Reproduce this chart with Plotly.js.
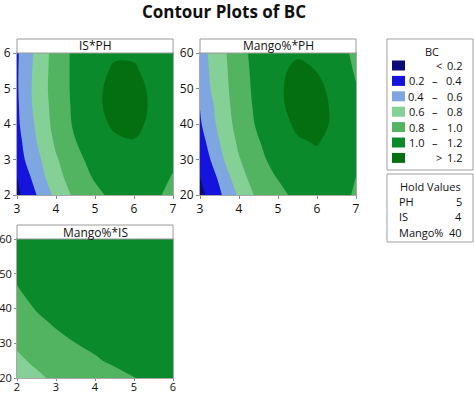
<!DOCTYPE html>
<html><head><meta charset="utf-8">
<script src="https://cdn.plot.ly/plotly-3.0.1.min.js"></script>
<style>html,body{margin:0;padding:0;background:#fff;} #chart{width:474px;height:395px;}</style>
</head><body><div id="chart"></div>
<script>
// ---- data ----
const phVals = [3, 3.5, 4, 4.5, 5, 5.5, 6, 6.5, 7];
const isVals = [2, 2.5, 3, 3.5, 4, 4.5, 5, 5.5, 6];
const mangoVals = [20, 25, 30, 35, 40, 45, 50, 55, 60];

// BC over IS (rows) x PH (cols)
const bcIsPh = [
  [0.15, 0.40, 0.656, 0.845, 0.951, 1.05, 1.05, 1.04, 0.945],
  [0.198, 0.485, 0.735, 0.898, 1.02, 1.08, 1.10, 1.05, 0.992],
  [0.305, 0.543, 0.781, 0.935, 1.083, 1.14, 1.15, 1.10, 1.02],
  [0.33, 0.598, 0.833, 0.995, 1.11, 1.17, 1.19, 1.15, 1.05],
  [0.362, 0.632, 0.872, 1.032, 1.14, 1.228, 1.254, 1.15, 1.05],
  [0.37, 0.665, 0.876, 1.044, 1.16, 1.26, 1.26, 1.174, 1.06],
  [0.38, 0.675, 0.89, 1.047, 1.16, 1.255, 1.255, 1.166, 1.06],
  [0.38, 0.66, 0.89, 1.047, 1.15, 1.221, 1.218, 1.15, 1.05],
  [0.375, 0.645, 0.887, 1.048, 1.13, 1.18, 1.18, 1.13, 1.04]
];
// BC over Mango% (rows) x PH (cols)
const bcMangoPh = [
  [0.14, 0.368, 0.63, 0.854, 0.941, 1.054, 1.07, 1.04, 0.987],
  [0.199, 0.433, 0.731, 0.9035, 1.011, 1.09, 1.11, 1.07, 0.998],
  [0.235, 0.545, 0.788, 0.94, 1.09, 1.15, 1.17, 1.14, 1.03],
  [0.314, 0.598, 0.838, 0.99, 1.10, 1.185, 1.21, 1.15, 1.06],
  [0.376, 0.653, 0.876, 1.031, 1.14, 1.228, 1.25, 1.167, 1.05],
  [0.405, 0.681, 0.893, 1.05, 1.17, 1.253, 1.25, 1.167, 1.04],
  [0.485, 0.698, 0.9125, 1.058, 1.17, 1.27, 1.25, 1.13, 1.01],
  [0.504, 0.713, 0.92, 1.068, 1.15, 1.254, 1.195, 1.10, 0.982],
  [0.517, 0.725, 0.933, 1.079, 1.14, 1.17, 1.15, 1.07, 0.962]
];
// BC over Mango% (rows) x IS (cols)
const bcMangoIs = [
  [0.716, 0.77, 0.83, 0.87, 0.90, 0.94, 0.998, 1.02, 1.03],
  [0.77, 0.83, 0.89, 0.94, 0.98, 1.03, 1.05, 1.06, 1.06],
  [0.823, 0.891, 0.95, 0.999, 1.04, 1.07, 1.09, 1.09, 1.08],
  [0.877, 0.952, 1.01, 1.05, 1.08, 1.10, 1.11, 1.11, 1.10],
  [0.93, 1.01, 1.06, 1.09, 1.11, 1.12, 1.13, 1.12, 1.11],
  [0.984, 1.06, 1.10, 1.12, 1.135, 1.14, 1.14, 1.13, 1.12],
  [1.03, 1.09, 1.12, 1.14, 1.15, 1.15, 1.15, 1.14, 1.12],
  [1.06, 1.11, 1.14, 1.15, 1.16, 1.16, 1.15, 1.14, 1.12],
  [1.08, 1.12, 1.15, 1.16, 1.16, 1.16, 1.15, 1.14, 1.12]
];

const levelColors = ['#0b0b78', '#1414dc', '#7ea6e0', '#84d096', '#52b460', '#0b8a2b', '#046f10'];
const legendLow = ['', '0.2', '0.4', '0.6', '0.8', '1.0', ''];
const legendMid = ['<', '–', '–', '–', '–', '–', '>'];
const legendHigh = ['0.2', '0.4', '0.6', '0.8', '1.0', '1.2', '1.2'];
const holdNames = ['PH', 'IS', 'Mango%'];
const holdValues = ['5', '4', '40'];
const panelTitles = ['IS*PH', 'Mango%*PH', 'Mango%*IS'];
const phTicks = [3, 4, 5, 6, 7];
const isTicks = [2, 3, 4, 5, 6];
const mangoTicks = [20, 30, 40, 50, 60];

// ---- layout helpers ----
const W = 474, H = 395;
const FONT = 'Open Sans, Noto Sans, sans-serif';
const fx = p => p / W;
const fy = p => 1 - p / H;

const colorscale = levelColors.map((c, i) => [i / (levelColors.length - 1), c]);
function contourTrace(x, y, z, xa, ya) {
  return {
    type: 'contour', x: x, y: y, z: z, xaxis: xa, yaxis: ya,
    autocontour: false,
    contours: {start: 0.2, end: 1.21, size: 0.2, coloring: 'fill', showlines: false},
    line: {width: 0, smoothing: 1.0},
    colorscale: colorscale, showscale: false, hoverinfo: 'skip'
  };
}
const data = [
  contourTrace(phVals, isVals, bcIsPh, 'x', 'y'),
  contourTrace(phVals, mangoVals, bcMangoPh, 'x2', 'y2'),
  contourTrace(isVals, mangoVals, bcMangoIs, 'x3', 'y3')
];

const panels = [
  {x0: 17, x1: 173, y0: 53, y1: 195},
  {x0: 200, x1: 356, y0: 53, y1: 195},
  {x0: 17, x1: 173, y0: 239, y1: 378}
];
function axis(p, horiz, range, ticks, anchor, fs, tl) {
  return {
    domain: horiz ? [fx(p.x0), fx(p.x1)] : [fy(p.y1), fy(p.y0)],
    range: range, tickvals: ticks, ticks: 'outside', ticklen: tl || 3, tickcolor: '#888',
    showgrid: false, zeroline: false, showline: true, mirror: true,
    linecolor: '#a8a8a8', linewidth: 1, anchor: anchor, fixedrange: true,
    tickfont: {family: FONT, size: fs || 12, color: '#111'}
  };
}

const shapes = [], annotations = [];
const LF = {family: FONT, size: 11, color: '#111'};
panels.forEach((p, i) => {
  shapes.push({type: 'rect', xref: 'paper', yref: 'paper', x0: fx(p.x0), x1: fx(p.x1),
    y0: fy(p.y0), y1: fy(p.y0 - 14), fillcolor: '#fff', line: {color: '#9a9a9a', width: 1}});
  annotations.push({xref: 'paper', yref: 'paper', x: fx((p.x0 + p.x1) / 2), y: fy(p.y0 - 7),
    text: panelTitles[i], showarrow: false, xanchor: 'center', yanchor: 'middle',
    font: {family: FONT, size: 12, color: '#111'}});
});

// legend box
shapes.push({type: 'rect', xref: 'paper', yref: 'paper', x0: fx(387), x1: fx(473), y0: fy(170), y1: fy(39),
  fillcolor: '#fff', line: {color: '#a0a0a0', width: 1}});
annotations.push({xref: 'paper', yref: 'paper', x: fx(432), y: fy(51), text: 'BC', showarrow: false,
  xanchor: 'center', yanchor: 'middle', font: LF});
levelColors.forEach((c, i) => {
  const cy = 65.5 + 15.4 * i;
  shapes.push({type: 'rect', xref: 'paper', yref: 'paper', x0: fx(392), x1: fx(405), y0: fy(cy + 5), y1: fy(cy - 5),
    fillcolor: c, line: {width: 0}});
  if (legendLow[i]) annotations.push({xref: 'paper', yref: 'paper', x: fx(426), y: fy(cy), text: legendLow[i],
    showarrow: false, xanchor: 'right', yanchor: 'middle', font: LF});
  annotations.push({xref: 'paper', yref: 'paper', x: fx(legendLow[i] ? 435 : 439), y: fy(cy), text: legendMid[i],
    showarrow: false, xanchor: 'center', yanchor: 'middle', font: LF});
  annotations.push({xref: 'paper', yref: 'paper', x: fx(464), y: fy(cy), text: legendHigh[i],
    showarrow: false, xanchor: 'right', yanchor: 'middle', font: LF});
});

// hold values box
shapes.push({type: 'rect', xref: 'paper', yref: 'paper', x0: fx(387), x1: fx(473), y0: fy(242), y1: fy(174),
  fillcolor: '#fff', line: {color: '#a0a0a0', width: 1}});
annotations.push({xref: 'paper', yref: 'paper', x: fx(430), y: fy(186), text: 'Hold Values', showarrow: false,
  xanchor: 'center', yanchor: 'middle', font: LF});
holdNames.forEach((n, i) => {
  const cy = 201 + 15.5 * i;
  annotations.push({xref: 'paper', yref: 'paper', x: fx(397), y: fy(cy), text: n, showarrow: false,
    xanchor: 'left', yanchor: 'middle', font: LF});
  annotations.push({xref: 'paper', yref: 'paper', x: fx(464), y: fy(cy), text: holdValues[i], showarrow: false,
    xanchor: 'right', yanchor: 'middle', font: LF});
});

const layout = {
  width: W, height: H, margin: {l: 0, r: 0, t: 0, b: 0},
  paper_bgcolor: '#fff', plot_bgcolor: '#fff', showlegend: false,
  title: {text: '<b>Contour Plots of BC</b>', font: {family: FONT, size: 17, color: '#111'},
    x: fx(224), xanchor: 'center', xref: 'paper', y: fy(12), yanchor: 'middle', yref: 'paper'},
  xaxis: axis(panels[0], true, [3, 7], phTicks, 'y'),
  yaxis: axis(panels[0], false, [2, 6], isTicks, 'x'),
  xaxis2: axis(panels[1], true, [3, 7], phTicks, 'y2'),
  yaxis2: axis(panels[1], false, [20, 60], mangoTicks, 'x2'),
  xaxis3: Object.assign(axis(panels[2], true, [2, 6], isTicks, 'y3', 11, 2), {ticklabelstandoff: -3}),
  yaxis3: axis(panels[2], false, [20, 60], mangoTicks, 'x3', 11, 2),
  shapes: shapes, annotations: annotations
};
Plotly.newPlot('chart', data, layout, {staticPlot: true, displayModeBar: false});
</script></body></html>
